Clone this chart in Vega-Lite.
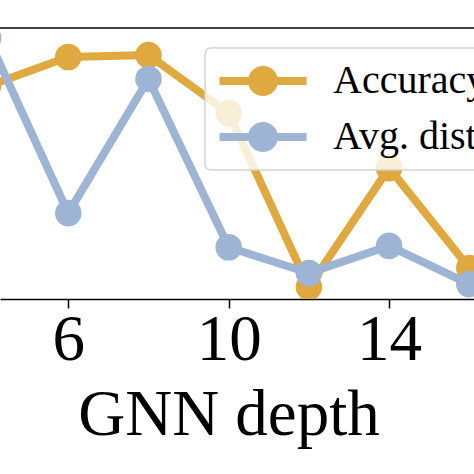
{
  "$schema": "https://vega.github.io/schema/vega-lite/v6.json",
  "autosize": "none",
  "width": 474,
  "height": 271,
  "padding": {"left": 0, "top": 28, "right": 0, "bottom": 175},
  "background": "white",
  "data": {
    "values": [
      {"depth": 4, "value": 0.786, "series": "Accuracy"},
      {"depth": 6, "value": 0.893, "series": "Accuracy"},
      {"depth": 8, "value": 0.9, "series": "Accuracy"},
      {"depth": 10, "value": 0.686, "series": "Accuracy"},
      {"depth": 12, "value": 0.044, "series": "Accuracy"},
      {"depth": 14, "value": 0.483, "series": "Accuracy"},
      {"depth": 16, "value": 0.114, "series": "Accuracy"},
      {"depth": 4, "value": 0.963, "series": "Avg. distance"},
      {"depth": 6, "value": 0.317, "series": "Avg. distance"},
      {"depth": 8, "value": 0.812, "series": "Avg. distance"},
      {"depth": 10, "value": 0.191, "series": "Avg. distance"},
      {"depth": 12, "value": 0.096, "series": "Avg. distance"},
      {"depth": 14, "value": 0.196, "series": "Avg. distance"},
      {"depth": 16, "value": 0.055, "series": "Avg. distance"}
    ]
  },
  "layer": [
    {
      "encoding": {
        "x": {
          "field": "depth",
          "type": "quantitative",
          "scale": {"domain": [4.297, 16.117], "nice": false, "zero": false},
          "axis": {
            "values": [6, 10, 14],
            "title": "GNN depth",
            "grid": false,
            "domainColor": "black",
            "domainWidth": 1.5,
            "tickColor": "black",
            "tickWidth": 1.5,
            "tickSize": 9,
            "labelFont": "Liberation Serif",
            "labelFontSize": 65,
            "labelColor": "black",
            "labelPadding": 0,
            "titleFont": "Liberation Serif",
            "titleFontSize": 65,
            "titleFontWeight": "normal",
            "titleColor": "black",
            "titleX": 228.5,
            "titleY": 135,
            "titleAlign": "center",
            "titleBaseline": "alphabetic"
          }
        },
        "y": {
          "field": "value",
          "type": "quantitative",
          "scale": {"domain": [0, 1], "nice": false},
          "axis": null
        },
        "color": {
          "field": "series",
          "type": "nominal",
          "scale": {"domain": ["Accuracy", "Avg. distance"], "range": ["#E0A93F", "#9DB4D5"]},
          "legend": {
            "title": null,
            "orient": "none",
            "legendX": 205,
            "legendY": 20,
            "symbolType": "M-2.9,-0.27H2.9V0.27H-2.9Z M1,0A1,1 0 1,1 -1,0A1,1 0 1,1 1,0Z",
            "symbolSize": 900,
            "symbolStrokeWidth": 0,
            "symbolOffset": 25,
            "symbolOpacity": 1,
            "labelFont": "Liberation Serif",
            "labelFontSize": 40,
            "labelColor": "black",
            "labelOffset": 50,
            "labelLimit": 0,
            "rowPadding": 16,
            "padding": 13,
            "fillColor": "rgba(255,255,255,0.8)",
            "strokeColor": "#d4d4d4",
            "cornerRadius": 6,
            "encode": {
              "legend": {"update": {"strokeWidth": {"value": 1.5}}},
              "symbols": {"update": {"fill": {"scale": "color", "field": "value"}, "opacity": {"value": 1}}}
            }
          }
        }
      },
      "layer": [
        {
          "transform": [{"filter": "datum.series === 'Accuracy'"}],
          "mark": {"type": "line", "strokeWidth": 8, "clip": true}
        },
        {
          "transform": [{"filter": "datum.series === 'Accuracy'"}],
          "mark": {"type": "point", "filled": true, "opacity": 1, "size": 707, "clip": true}
        },
        {
          "transform": [{"filter": "datum.series === 'Avg. distance'"}],
          "mark": {"type": "line", "strokeWidth": 8, "clip": true}
        },
        {
          "transform": [{"filter": "datum.series === 'Avg. distance'"}],
          "mark": {"type": "point", "filled": true, "opacity": 1, "size": 707, "clip": true}
        }
      ]
    },
    {
      "data": {"values": [{"edge": "top"}]},
      "mark": {"type": "rule", "color": "black", "strokeWidth": 1.5},
      "encoding": {"y": {"datum": 1, "type": "quantitative"}}
    }
  ],
  "config": {
    "view": {"stroke": null}
  }
}
